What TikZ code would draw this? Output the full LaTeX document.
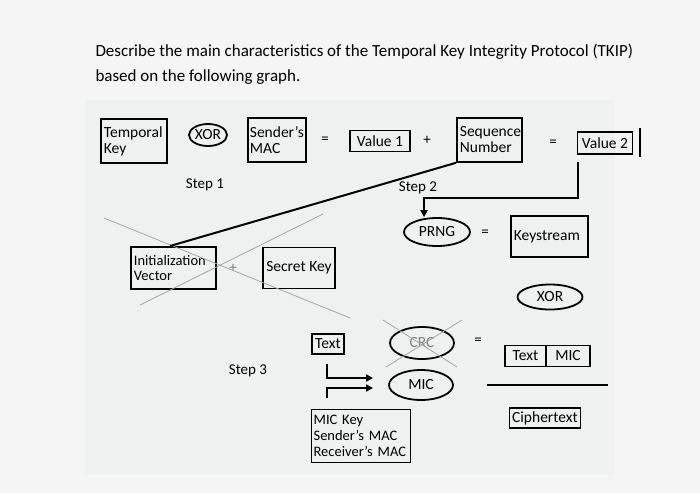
\documentclass[tikz,border=0pt]{standalone}
\usepackage{fontspec}
\setmainfont{Carlito}
\usetikzlibrary{shapes.geometric,arrows.meta}
\begin{document}
\begin{tikzpicture}[x=1pt,y=-1pt,
  bx/.style={draw,line width=1.8pt,align=left,inner sep=2pt,font=\fontsize{15.5}{16}\selectfont},
  ell/.style={draw,line width=1.8pt,ellipse,inner sep=0pt,font=\fontsize{15.5}{15}\selectfont},
  lbl/.style={font=\fontsize{15}{15}\selectfont},
  cross/.style={draw=gray!70,line width=0.8pt},
  conn/.style={line width=2pt},
  arr/.style={conn,-{Triangle[length=7pt,width=7pt]}}]
\useasboundingbox (0,0) rectangle (700,493);
\fill[gray!8] (0,0) rectangle (700,493);
\fill[cyan!4!gray!14] (85,100) rectangle (615,475);
\node[anchor=west,font=\fontsize{17}{17}\selectfont] (t1) at (92,52) {Describe the main characteristics of the Temporal Key Integrity Protocol (TKIP)};
\node[anchor=west,font=\fontsize{17}{17}\selectfont] (t2) at (92,77) {based on the following graph.};
% row 1
\node[bx,minimum width=66pt,minimum height=44pt,anchor=north west,text width=60pt] (tk) at (100,118) {Temporal\\Key};
\node[ell,minimum width=38pt,minimum height=22pt] (x1) at (208,135) {XOR};
\node[bx,minimum width=58pt,minimum height=44pt,anchor=north west,text width=54pt,inner sep=1.5pt] (sm) at (247,117) {Sender's\\MAC};
\node[lbl] (eq1) at (325,140) {=};
\node[bx,minimum width=60pt,minimum height=21pt,inner sep=1pt] (v1) at (380,141) {Value 1};
\node[lbl] (pl1) at (427,140) {+};
\node[bx,minimum width=65pt,minimum height=44pt,anchor=north west,text width=59pt] (sn) at (456,117) {Sequence\\Number};
\node[lbl] (eq2) at (553,143) {=};
\node[bx,minimum width=55pt,minimum height=22pt,inner sep=1pt] (v2) at (605,143) {Value 2};
\draw[line width=1.8pt] (640,128) -- (640,157);
\node[lbl] (s1) at (205,185) {Step 1};
\node[lbl] (s2) at (418,188) {Step 2};
% row 2
\node[ell,minimum width=66pt,minimum height=28pt] (prng) at (437,232) {PRNG};
\node[lbl] (eq3) at (485,233) {=};
\node[bx,minimum width=77pt,minimum height=41pt,anchor=north west,text width=71pt] (ks) at (510,215) {Keystream};
\node[bx,minimum width=85pt,minimum height=42pt,anchor=north west,text width=79pt,font=\fontsize{14.5}{15}\selectfont] (iv) at (130,246) {Initialization\\Vector};
\node[lbl,text=gray] (pl2) at (233,268) {+};
\node[bx,minimum width=72pt,minimum height=41pt] (sk) at (299,268) {Secret Key};
\draw[cross] (104,218) -- (350,318);
\draw[cross] (323,214) -- (140,305);
\draw[conn] (sn.south west) -- (iv.north -| 170,0);
\coordinate (v2d) at (578,162);
\coordinate (bend) at (578,198);
\draw[conn] (v2d) -- (bend) -- (424,198);
\draw[arr] (424,197) -- (prng.north -| 424,0);
% row 3
\node[ell,minimum width=65pt,minimum height=25pt] (x2) at (550,297) {XOR};
\node[bx,minimum width=32pt,minimum height=20pt,inner sep=1pt] (tx) at (328,344) {Text};
\node[ell,minimum width=64pt,minimum height=32pt,text=gray] (crc) at (422,343) {CRC};
\draw[cross] (383,320) -- (457,367);
\draw[cross] (462,320) -- (386,367);
\node[lbl] (eq4) at (478,341) {=};
\node[bx,minimum width=41pt,minimum height=21pt,inner sep=1pt] (tm1) at (525.5,356) {Text};
\node[bx,minimum width=44pt,minimum height=21pt,inner sep=1pt] (tm2) at (568,356) {MIC};
\node[lbl] (s3) at (248,371) {Step 3};
\node[ell,minimum width=64pt,minimum height=30pt] (mic) at (421,385) {MIC};
\coordinate (a1) at (373,378);
\coordinate (a2) at (373,388);
\draw[arr] (327,364) -- (327,378) -- (a1);
\draw[arr] (327,398) -- (327,388) -- (a2);
\coordinate (h1) at (487,385);
\coordinate (h2) at (608,385);
\draw[line width=1.6pt] (h1) -- (h2);
\node[bx,line width=1.2pt,minimum width=99pt,minimum height=53pt,anchor=north west,text width=95pt,inner sep=1pt,font=\fontsize{14.5}{16}\selectfont] (mk) at (311,409) {MIC Key\\Sender's MAC\\Receiver's MAC};
\node[bx,minimum width=71pt,minimum height=20pt,inner sep=1pt] (ct) at (545,418) {Ciphertext};
\end{tikzpicture}
\end{document}
